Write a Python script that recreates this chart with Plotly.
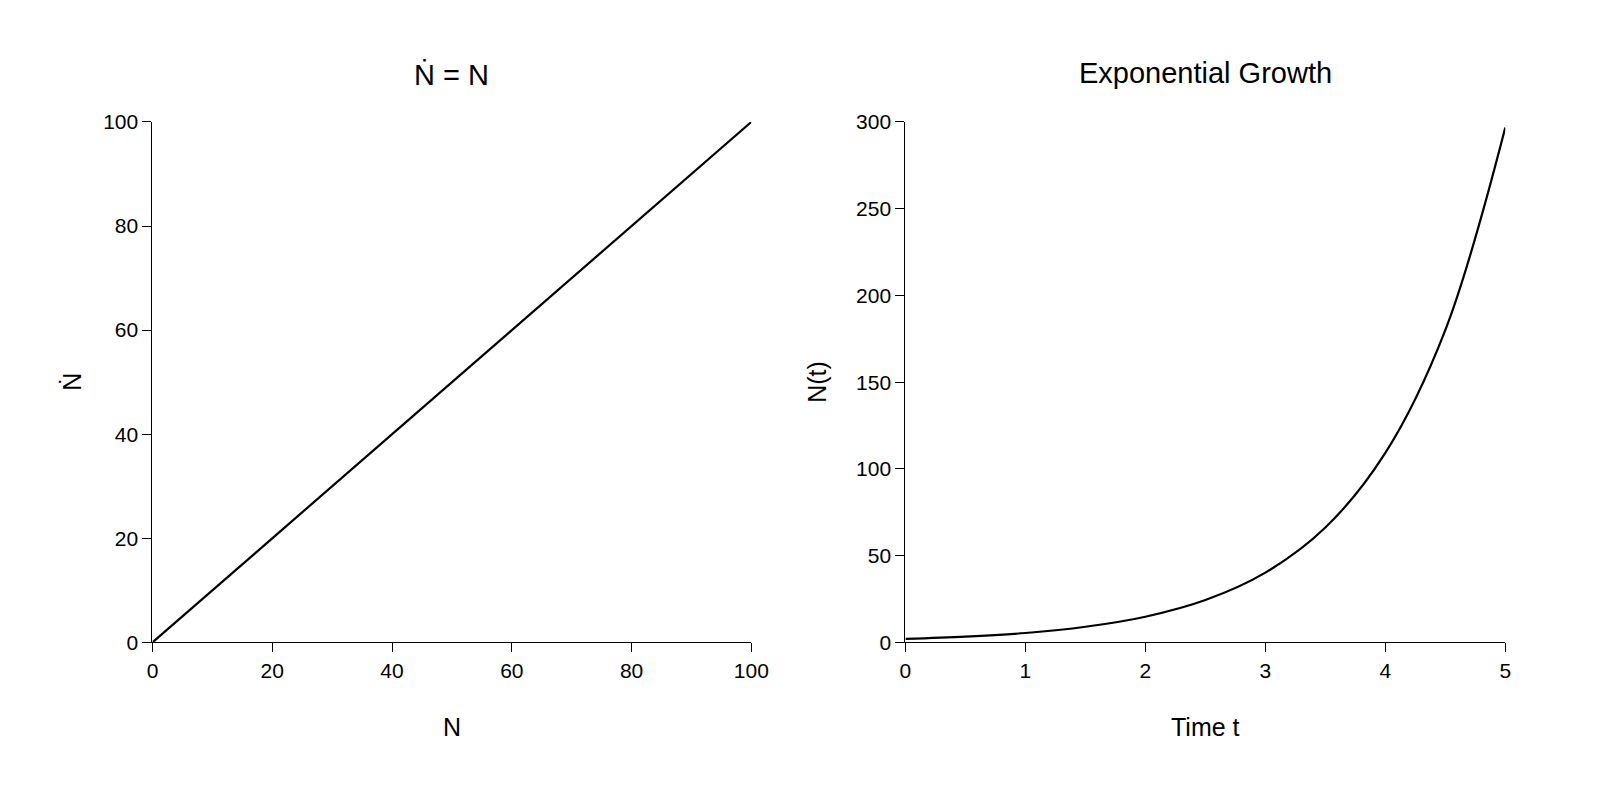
import plotly.graph_objects as go

# Left panel data
n_vals = [0, 100]
ndot_vals = [0, 100]
# Right panel data
t_vals = [0, 0.5, 1, 1.5, 2, 2.5, 3, 3.5, 4, 4.5, 5]
nt_vals = [2, 3.3, 5.4, 9.0, 14.8, 24.4, 40.2, 66.2, 109.2, 180.0, 296.8]

fig = go.Figure()
fig.add_trace(go.Scatter(x=n_vals, y=ndot_vals, mode="lines", line=dict(color="black", width=2.2), xaxis="x", yaxis="y"))
fig.add_trace(go.Scatter(x=t_vals, y=nt_vals, mode="lines", line=dict(color="black", width=2.2, shape="spline"), xaxis="x2", yaxis="y2"))

ax = dict(showgrid=False, zeroline=False, showline=True, linecolor="black", linewidth=1.2,
          ticks="outside", ticklen=9, tickwidth=1.2, tickcolor="black",
          tickfont=dict(size=21, color="black"))
fig.update_layout(
    autosize=True, margin=dict(l=0, r=0, t=0, b=0),
    paper_bgcolor="white", plot_bgcolor="white", showlegend=False,
    font=dict(family="Liberation Sans, Arial", color="black"),
    xaxis=dict(**ax, domain=[142/1622, 756/1622], range=[0, 100], tickvals=[0, 20, 40, 60, 80, 100]),
    yaxis=dict(**ax, domain=[1-641/792, 1-105/792], range=[0, 100], tickvals=[0, 20, 40, 60, 80, 100]),
    xaxis2=dict(**ax, domain=[914/1622, 1529/1622], range=[0, 5], tickvals=[0, 1, 2, 3, 4, 5], anchor="y2"),
    yaxis2=dict(**ax, domain=[1-641/792, 1-105/792], range=[0, 300], tickvals=[0, 50, 100, 150, 200, 250, 300], anchor="x2"),
)
ann = [
    dict(text="N\u0307 = N", x=449/1622, y=1-57/792, size=29, angle=0),
    dict(text="Exponential Growth", x=1222/1622, y=1-55/792, size=29, angle=0),
    dict(text="N", x=449/1622, y=1-728/792, size=25, angle=0),
    dict(text="Time t", x=1222/1622, y=1-728/792, size=25, angle=0),
    dict(text="N\u0307", x=60/1622, y=1-373/792, size=25, angle=-90),
    dict(text="N(t)", x=823/1622, y=1-373/792, size=25, angle=-90),
]
for a in ann:
    fig.add_annotation(text=a["text"], x=a["x"], y=a["y"], xref="paper", yref="paper",
                       showarrow=False, textangle=a["angle"], font=dict(size=a["size"], color="black"),
                       xanchor="center", yanchor="middle")
fig.write_html("out.html", default_width="100%", default_height="100vh",
               config={"responsive": True})
